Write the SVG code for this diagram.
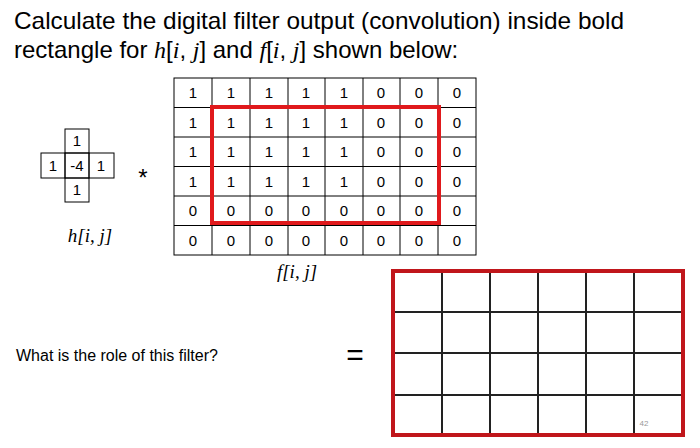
<svg xmlns="http://www.w3.org/2000/svg" width="700" height="448" viewBox="0 0 700 448">
<style>
.t{font-family:"Liberation Sans",Arial,sans-serif;fill:#000}
.m{font-family:"Liberation Serif","Times New Roman",serif;font-style:italic;fill:#000}
.c{font-family:"Liberation Sans",Arial,sans-serif;font-size:15px;text-anchor:middle;fill:#000}
.g{fill:none;stroke:#000;stroke-width:1}
.r{fill:none;stroke:#e0191c;stroke-width:4}
</style>
<rect width="700" height="448" fill="#fff"/>
<text class="t" x="14" y="29" font-size="24" textLength="610" lengthAdjust="spacingAndGlyphs">Calculate the digital filter output (convolution) inside bold</text>
<text class="t" x="14" y="58" font-size="24">rectangle for <tspan class="m">h</tspan>[<tspan class="m">i</tspan>, <tspan class="m">j</tspan>] and <tspan class="m">f</tspan>[<tspan class="m">i</tspan>, <tspan class="m">j</tspan>] shown below:</text>
<g id="kernel">
<rect class="g" x="65" y="129" width="24" height="24"/>
<rect class="g" x="41" y="153" width="24" height="25"/>
<rect class="g" x="65" y="153" width="24" height="25"/>
<rect class="g" x="89" y="153" width="25" height="25"/>
<rect class="g" x="65" y="178" width="24" height="24"/>
<text class="c" x="77" y="146" font-size="14">1</text>
<text class="c" x="53" y="171" font-size="14">1</text>
<text class="c" x="77" y="171" font-size="14">-4</text>
<text class="c" x="101" y="171" font-size="14">1</text>
<text class="c" x="77" y="195" font-size="14">1</text>
<text class="m" x="90" y="242" font-size="19" text-anchor="middle">h[i, j]</text>
</g>
<text class="t" x="143" y="186" font-size="24" text-anchor="middle">*</text>
<g id="input">
<g class="g">
<rect x="174" y="78" width="302" height="177"/>
<path d="M212 78V255M250 78V255M288 78V255M325 78V255M363 78V255M400 78V255M438 78V255M174 107.5H476M174 137H476M174 166.5H476M174 196H476M174 225.5H476"/>
</g>
<g class="c">
<text x="193" y="98">1</text><text x="231" y="98">1</text><text x="269" y="98">1</text><text x="306" y="98">1</text><text x="344" y="98">1</text><text x="381" y="98">0</text><text x="419" y="98">0</text><text x="457" y="98">0</text>
<text x="193" y="128">1</text><text x="231" y="128">1</text><text x="269" y="128">1</text><text x="306" y="128">1</text><text x="344" y="128">1</text><text x="381" y="128">0</text><text x="419" y="128">0</text><text x="457" y="128">0</text>
<text x="193" y="157">1</text><text x="231" y="157">1</text><text x="269" y="157">1</text><text x="306" y="157">1</text><text x="344" y="157">1</text><text x="381" y="157">0</text><text x="419" y="157">0</text><text x="457" y="157">0</text>
<text x="193" y="187">1</text><text x="231" y="187">1</text><text x="269" y="187">1</text><text x="306" y="187">1</text><text x="344" y="187">1</text><text x="381" y="187">0</text><text x="419" y="187">0</text><text x="457" y="187">0</text>
<text x="193" y="216">0</text><text x="231" y="216">0</text><text x="269" y="216">0</text><text x="306" y="216">0</text><text x="344" y="216">0</text><text x="381" y="216">0</text><text x="419" y="216">0</text><text x="457" y="216">0</text>
<text x="193" y="246">0</text><text x="231" y="246">0</text><text x="269" y="246">0</text><text x="306" y="246">0</text><text x="344" y="246">0</text><text x="381" y="246">0</text><text x="419" y="246">0</text><text x="457" y="246">0</text>
</g>
<rect class="r" x="212" y="107" width="227" height="116"/>
<text class="m" x="297" y="278" font-size="19" text-anchor="middle">f[i, j]</text>
</g>
<text class="t" x="16" y="361" font-size="16">What is the role of this filter?</text>
<text class="t" x="355" y="365" font-size="30" text-anchor="middle">=</text>
<g id="output">
<path fill="none" stroke="#222" stroke-width="2" d="M442 271V435M490 271V435M538 271V435M586 271V435M634 271V435M393 312H683M393 353H683M393 395H683"/>
<rect x="393" y="271" width="290" height="164" fill="none" stroke="#c0161b" stroke-width="4"/>
<text x="644" y="426" font-family="Liberation Sans,Arial,sans-serif" font-size="8" fill="#999" text-anchor="middle">42</text>
</g>
</svg>
